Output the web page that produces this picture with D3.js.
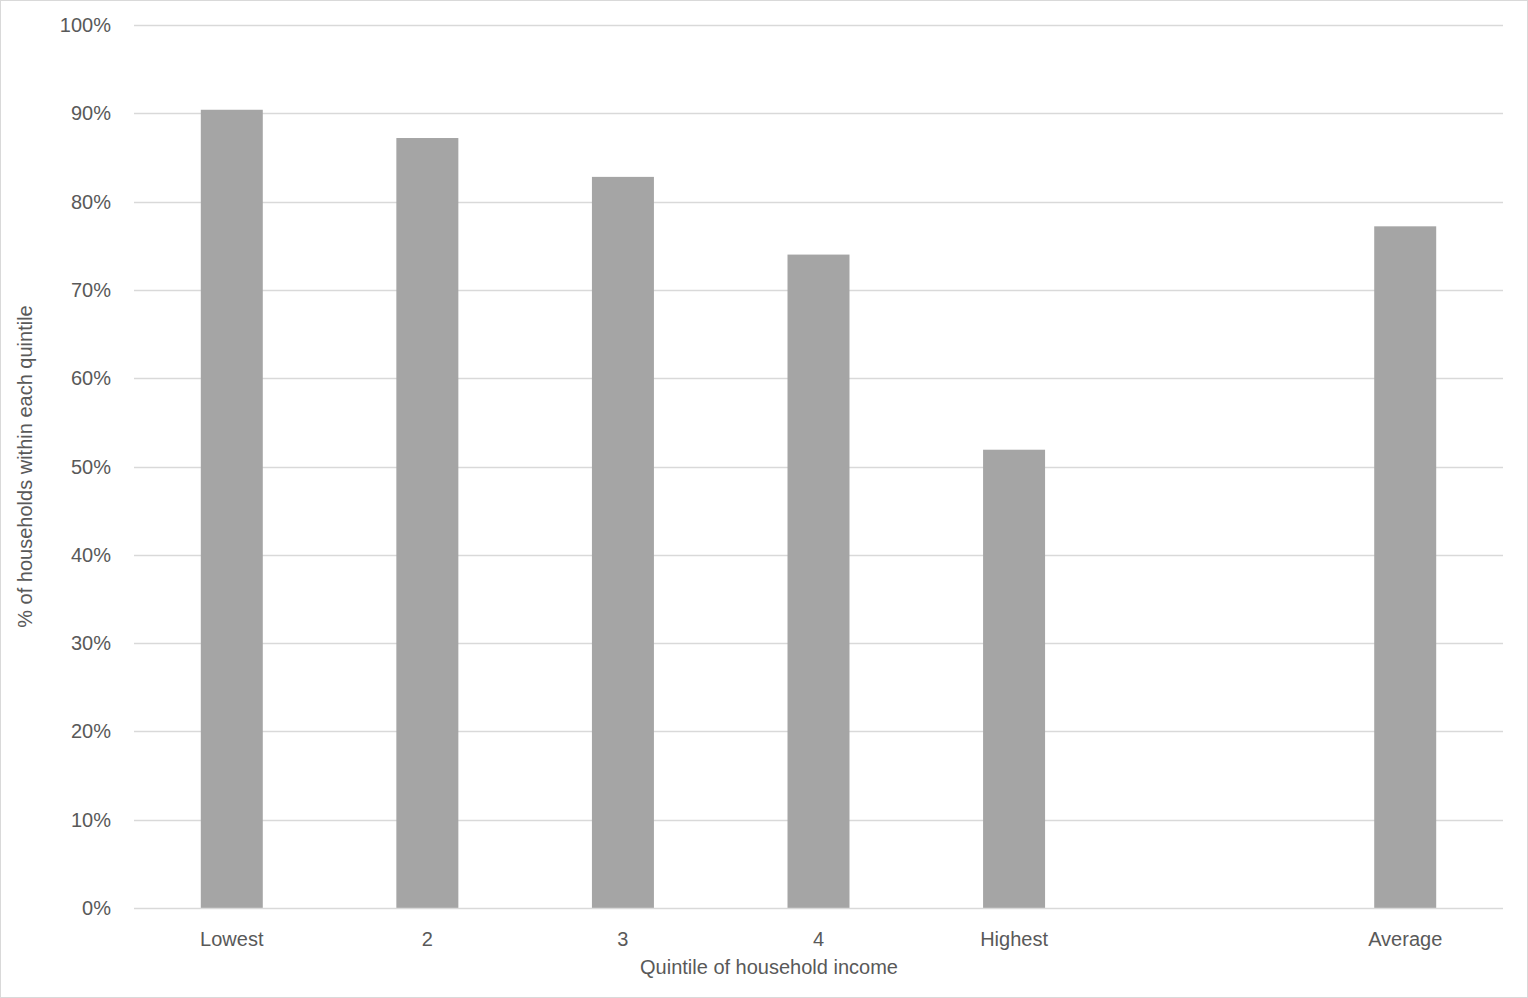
<!DOCTYPE html>
<html><head><meta charset="utf-8">
<script src="https://cdn.jsdelivr.net/npm/d3@7"></script>
<style>body{margin:0;background:#fff}svg{font-family:"Liberation Sans",Arial,sans-serif}</style>
</head><body><svg id="c" width="1528" height="998"></svg>
<script>
const categories = ['Lowest', '2', '3', '4', 'Highest', '', 'Average'];
const values = [0.904, 0.872, 0.828, 0.740, 0.519, null, 0.772];
const yTicks = [0, 0.1, 0.2, 0.3, 0.4, 0.5, 0.6, 0.7, 0.8, 0.9, 1.0];

const svg = d3.select('#c');
const plotLeft = 134, plotRight = 1503, plotTop = 25, plotBottom = 908;

svg.append('rect').attr('x', 0.5).attr('y', 0.5).attr('width', 1527).attr('height', 997)
    .attr('fill', '#fff').attr('stroke', '#d9d9d9');

const x = d3.scaleBand().domain(categories.map((c, i) => i)).range([plotLeft, plotRight]);
const y = d3.scaleLinear().domain([0, 1]).range([plotBottom, plotTop]);

// gridlines
svg.append('g').selectAll('line').data(yTicks.slice(1)).join('line')
    .attr('x1', plotLeft).attr('x2', plotRight)
    .attr('y1', d => Math.round(y(d)) + 0.5).attr('y2', d => Math.round(y(d)) + 0.5)
    .attr('stroke', '#d9d9d9').attr('stroke-width', 1.5);

// bars
const bw = 62;
svg.append('g').selectAll('rect').data(values.map((v, i) => ({v, i})).filter(d => d.v != null)).join('rect')
    .attr('x', d => x(d.i) + x.bandwidth() / 2 - bw / 2)
    .attr('y', d => y(d.v)).attr('width', bw)
    .attr('height', d => y(0) - y(d.v))
    .attr('fill', '#a5a5a5');

// x axis line
svg.append('line').attr('x1', plotLeft).attr('x2', plotRight).attr('y1', plotBottom + 0.5).attr('y2', plotBottom + 0.5)
    .attr('stroke', '#d9d9d9').attr('stroke-width', 1.5);

// y tick labels
svg.append('g').selectAll('text').data(yTicks).join('text')
    .attr('x', 111).attr('y', d => y(d)).attr('dy', '0.35em').attr('text-anchor', 'end')
    .attr('font-size', 20).attr('fill', '#595959').text(d3.format('.0%'));

// x tick labels
svg.append('g').selectAll('text').data(categories).join('text')
    .attr('x', (d, i) => x(i) + x.bandwidth() / 2).attr('y', 946).attr('text-anchor', 'middle')
    .attr('font-size', 20).attr('fill', '#595959').text(d => d);

svg.append('text').attr('x', 769).attr('y', 974).attr('text-anchor', 'middle')
    .attr('font-size', 20).attr('fill', '#595959').text('Quintile of household income');

svg.append('text').attr('transform', `translate(32,${(plotTop + plotBottom) / 2}) rotate(-90)`)
    .attr('text-anchor', 'middle').attr('font-size', 20).attr('fill', '#595959')
    .text('% of households within each quintile');
</script></body></html>
